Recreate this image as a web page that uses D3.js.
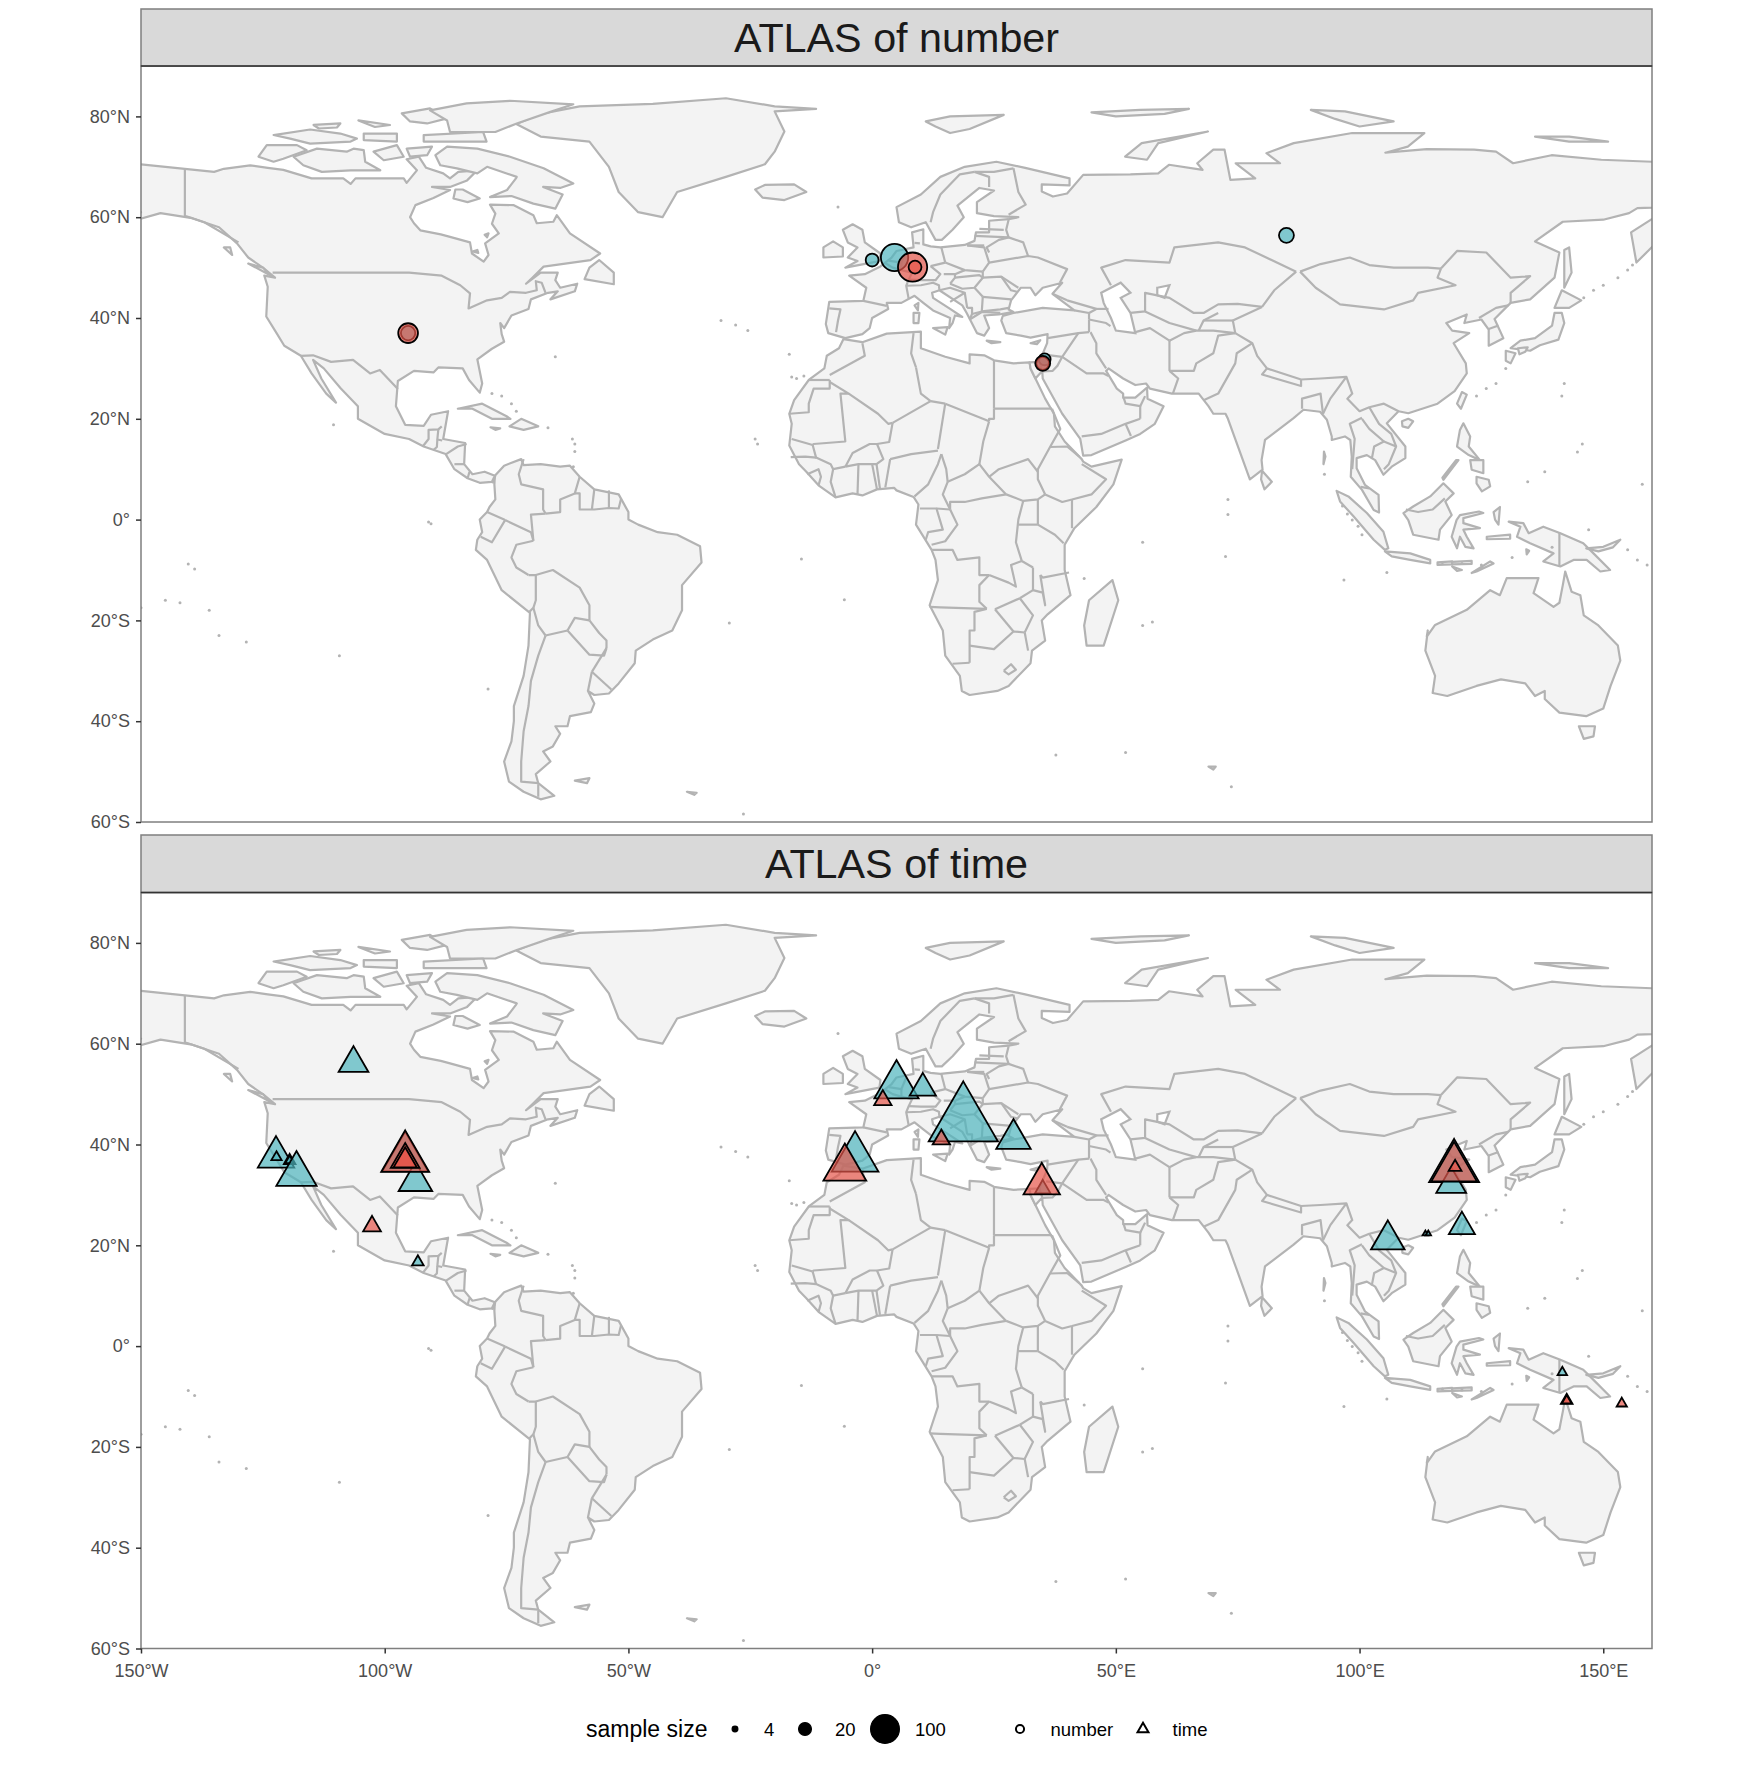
<!DOCTYPE html>
<html>
<head>
    <title>ATLAS map</title>
    <script src="https://cdn.jsdelivr.net/npm/d3@7"></script>
    <meta charset="utf-8" />
    <style>
        body { margin: 0; background: #fff; }
        text { font-family: "Liberation Sans", Arial, sans-serif; }
    </style>
</head>
<body>
<script>
    // land outlines, lon/lat
    var northAmerica = [[-168,65.6],[-166,68.3],[-163,69],[-157,71.2],[-150,70.5],[-141,69.6],[-135,69],[-133,69.6],[-127.6,70.3],[-124,69.8],[-120.8,69.4],[-115,67.7],[-108.5,67.7],[-107,66.6],[-106,67.7],[-101.3,67.7],[-96.1,67.7],[-95.5,66.8],[-93.4,69.3],[-95.5,71.5],[-93,72],[-91.5,69.8],[-88,68.7],[-86.6,67.7],[-84.9,69],[-81,69.3],[-83.1,67.3],[-86.6,66],[-90.3,66],[-86.6,65.4],[-90,63.8],[-93.7,62.4],[-94.8,60],[-94,58.8],[-92.7,57.4],[-88.5,56.6],[-86.6,56.1],[-82.5,55],[-82.1,52.8],[-79.7,51.2],[-78.7,52.5],[-79.4,54.8],[-76.6,56.8],[-78,58.7],[-77.3,60.7],[-78.4,62.5],[-73.6,62.4],[-69.5,60.4],[-68.8,58.8],[-65.4,59.1],[-64.7,60.4],[-62,56.8],[-55.8,52.8],[-57.8,51.5],[-67.4,50.2],[-69.5,48.2],[-71,46.8],[-68,49],[-64.5,49],[-65,47.5],[-64,46],[-60.5,46.8],[-61,45.3],[-66,43.7],[-64.5,45.3],[-66.5,45],[-70,43.7],[-70.5,41.8],[-74,40.5],[-75.5,38],[-76.3,39],[-76,36.8],[-75.5,35.3],[-78,33.9],[-81,31.8],[-80,27],[-80.5,25.2],[-82.7,27.7],[-84,30],[-89,30.2],[-90,29.2],[-94,29.5],[-97.3,27.5],[-97.7,22.5],[-95.8,18.8],[-92,18.6],[-90.5,20.8],[-87,21.5],[-88,16],[-83.5,15.2],[-83.7,11],[-82,9],[-79.5,9.5],[-77.4,8.7],[-78,7.5],[-80.5,7.3],[-83,8.2],[-85.7,10],[-87.5,13],[-92,14.5],[-95,16],[-100,17],[-105.5,20],[-105.5,22.5],[-109,26],[-112.5,30],[-114.7,31.7],[-113,28],[-110,23.2],[-112,25],[-115,29],[-117.2,32.5],[-120.6,34.5],[-122.5,37.5],[-124.3,40.3],[-124,46.2],[-124.7,48.4],[-122.5,48],[-125,50],[-128,52],[-130.3,54.8],[-134,58],[-139.5,59.8],[-146,60.8],[-151.5,59.3],[-150,61],[-153,60],[-158,56.2],[-164,54.6],[-158,58.5],[-162,59],[-165,61],[-164,63],[-161,64.5],[-166,64.5]];
    var arcticIslands = [
        [[-87.2,74],[-81,73.6],[-74.3,72],[-67.4,69.7],[-61.3,66.7],[-64,65.8],[-67.5,66],[-63.5,64.5],[-65,61.7],[-69.5,62.7],[-74,64.2],[-78.4,64],[-74.9,65.4],[-73,67.8],[-72.9,68],[-79,70],[-81,68.7],[-85.2,69.7],[-88.6,70.3],[-89.6,72.3]],
        [[-118.7,72],[-113.9,73.6],[-107.8,73],[-106.4,73.6],[-104.3,73.3],[-104,71],[-100.9,69.3],[-107,69.3],[-112.9,69],[-116.7,70.3]],
        [[-125.9,72],[-124.2,74.3],[-118,74.3],[-116,73.3],[-120.8,71.6],[-122.8,71]],
        [[-122.8,76.3],[-115.3,77.4],[-109.1,76.6],[-105.7,75.6],[-107,75],[-115.3,74.6],[-119.4,75.6]],
        [[-104.3,76.6],[-97.5,76.6],[-97.5,75],[-104.3,75.3]],
        [[-114.6,78.3],[-109.1,78.6],[-109.8,77.8],[-113.5,77.6]],
        [[-105.4,79.2],[-98.9,78.3],[-102,77.9]],
        [[-96.5,80.6],[-90.7,81.6],[-87.2,79.6],[-91.3,78.6],[-94.8,79]],
        [[-90.7,81.2],[-83.2,82.6],[-74.3,83.1],[-61.3,82.4],[-66,80.9],[-72.9,78.6],[-77.3,76.9],[-86.6,76.9],[-87.2,79.2]],
        [[-92,76.3],[-79.8,76.9],[-79.1,75],[-92,75]],
        [[-95.5,73.6],[-90.3,74],[-91.3,72.3],[-94.8,72]],
        [[-102.3,73],[-97.5,74.3],[-96.1,72],[-100.2,71.3]],
        [[-85.5,65.5],[-85.9,63.7],[-83,63],[-80.5,63.7],[-84,65.5]],
        [[-79.5,56.5],[-78.7,56.8],[-79,56]],
        [[-82,53.2],[-81,53.5],[-80.8,52.9]],
        [[-59,47.7],[-53,46.7],[-53,49],[-56,51.5],[-58,50]],
        [[-128,50.8],[-123.5,48.5],[-125,50]],
        [[-133,54],[-131.7,54],[-131.3,52.5]],
        [[-85,22],[-80,23],[-75,20.5],[-74.2,20],[-78,20],[-82,22]],
        [[-74.4,18.5],[-72,20],[-68.5,18.5],[-71.5,17.8]],
        [[-78.3,18.3],[-76.3,18.1],[-77.3,17.8]]
    ];
    var greenland = [[-73,78.5],[-68,80.5],[-60,82],[-45,82.5],[-30,83.6],[-20,82],[-11.5,81.5],[-20,81],[-18,77],[-20,73],[-22,70.5],[-30,68],[-40,65],[-43,60],[-48,61],[-52,65],[-54,70],[-58,75],[-68,76]];
    var southAmerica = [[-77.4,8.7],[-75.5,10.7],[-72,12],[-71.5,10.8],[-68,11],[-64,10.5],[-62,10.7],[-60,8.5],[-57,6],[-52,5],[-50,1.5],[-50,0],[-48,-1],[-44,-2.5],[-40,-3],[-35.3,-5.3],[-35,-8.5],[-39,-13],[-39,-18],[-41,-22],[-45,-23.8],[-48.5,-26],[-48.7,-28.5],[-52,-32.5],[-54,-34.5],[-57,-34.8],[-58.3,-34],[-57,-36.5],[-57.7,-38.2],[-62,-39],[-62.5,-41],[-65,-41],[-64,-42.5],[-65.5,-45],[-67.5,-46],[-66,-48],[-69,-50.5],[-68.5,-52.3],[-65.2,-54.8],[-68,-55.5],[-71.5,-54],[-74.5,-52],[-75.5,-48],[-74,-44],[-73.5,-40],[-73.5,-37],[-71.5,-31],[-70.5,-25],[-70.2,-18.5],[-76,-14],[-79,-8],[-81.3,-6],[-81,-4],[-80,-2.5],[-80.5,0],[-79,1.5],[-78.5,2.5],[-77.3,4],[-77.5,7]];
    var africa = [[-5.9,35.8],[-2,35.2],[3,36.9],[10,37.3],[10,34],[15,32.3],[20,31],[20,32.8],[23,32.6],[25,31.6],[29,31],[32.3,31.2],[32.5,30],[34,27],[35.5,24],[37.3,21],[37.5,18.5],[39.5,15.5],[43,12],[43.3,11.5],[45,10.5],[51.2,11.9],[49.5,7],[46,2.5],[41.5,-1.7],[39.5,-5],[39.5,-10],[40.7,-15],[36,-18.8],[34.8,-20],[35.5,-24],[32.8,-26],[32.5,-28.5],[28,-33],[25.7,-34],[20,-34.8],[18.4,-34],[18,-31],[15,-27],[14.5,-22],[11.8,-17],[13.5,-12],[13,-8],[12.2,-6],[9,-1],[9.5,3],[8.5,4.5],[5,5.8],[4.5,6.3],[1,6],[-2,4.8],[-4,5.2],[-7.5,4.4],[-11,6.8],[-13.5,9.5],[-15,11],[-17,14.7],[-16.5,19],[-17,21],[-16,23.7],[-13,27.7],[-9.8,30],[-9.3,32.5],[-6.8,34]];
    var eurasia = [[-5.5,36],[-9,37],[-9.5,38.8],[-8.8,43.2],[-1.8,43.4],[-1.2,46],[-4.7,48.4],[-1.5,48.7],[1.5,50.1],[4,52],[5,53.3],[8.5,54],[8.2,57],[10.5,57.6],[10.5,54.6],[12,54.2],[14,54],[19,54.5],[21,55.3],[21.3,57],[24,57],[24,59.3],[28,59.6],[30,60],[25,60.2],[21.5,60.8],[21.5,63],[25,65.3],[22,65.8],[17.5,62.3],[18.8,60],[16.5,57.5],[14.3,55.5],[13,55.5],[11,59],[8,58],[5.5,59],[5,62],[10,64.5],[14,68],[19,70],[25.5,71],[31.4,69.8],[40.5,67.7],[40.5,66.3],[34.8,66.5],[34.8,65.1],[37.1,64.1],[40,64.7],[43.3,68.4],[53,68.5],[58.7,68.7],[60.9,70.4],[67.8,69.4],[66.7,70.7],[70,73.4],[72.3,73.4],[73.5,67.4],[78.6,67.7],[74.6,70.7],[83.7,70.7],[80.9,72.7],[86.5,74.7],[98.5,76.7],[113.3,76.7],[109.9,74],[105.3,72.8],[113.8,73.5],[123.5,73.4],[128,73],[131.5,70.7],[139.4,72.3],[149.6,71.4],[160,71],[170,69.5],[180,69],[180,65],[178,64.5],[179,62.5],[170,60],[163,59.8],[163,58],[162,56],[156.8,51],[155.7,57],[163.8,62],[157,61.8],[155.3,60.8],[150,59.5],[141.7,59.1],[136,55.2],[141,53],[140,48],[135,43.7],[131,43],[127.7,39.8],[129.5,36],[126.5,34.5],[126.5,37.7],[125,39.7],[121.5,39],[122,40.7],[117.8,39],[119,37.5],[122.5,37],[119.3,35],[121.8,31],[122,29],[119.5,25.5],[116,23],[110,21.1],[108,21.5],[105.6,19.1],[109.4,14.5],[109.4,12.2],[106.6,10.5],[104.9,8.9],[103.2,11.8],[101.5,12.8],[99.4,12.2],[99.4,10.2],[101.1,6.9],[103.9,4.9],[104,1.4],[102.9,1.9],[100.5,5.9],[98.2,8.5],[98.4,12.5],[98.1,15.8],[97,16.5],[94.3,15.8],[94.3,16.5],[93.3,19.8],[91.9,21.4],[88.5,21.8],[86.4,20.1],[80.6,15.8],[79.9,11.8],[80.1,9.9],[77.5,8],[73,20],[72.5,21],[70,21],[69,22.5],[67,25],[61.5,25],[57,26],[56.2,27],[54,26.7],[51.5,28],[48.5,30],[48,29.5],[50.2,26],[51.5,25],[51.5,24.2],[54,24.2],[56.4,26.2],[56.5,24],[59.8,22.5],[58,19],[55,17],[52,15.7],[45,12.8],[43.3,12.7],[42.7,16],[39,21],[35,28],[34.9,29.5],[33.5,28],[32.5,30],[32.3,31.2],[34.3,31.3],[35.9,35],[36,36.8],[32.5,36.1],[30.5,36.5],[27.5,37],[26.5,39.5],[26.8,40.4],[29,41],[35,42],[41.5,41.5],[37,44.8],[39,47],[35,46],[33.5,44.5],[32.5,46],[30.5,46],[28.5,43.5],[28,41.7],[29,41.2],[26,40.7],[23,40.5],[24,38],[23,36.5],[21.5,37],[19.4,41],[18.5,42.5],[13.8,45.5],[12.3,45],[12.5,44],[16,41.8],[18.5,40.2],[17,40.5],[16.5,39],[15.8,38],[16,40],[12.5,41.5],[10.5,43],[8.7,44.4],[6,43],[3,43],[3.3,41.8],[0,40],[-0.5,38],[-2,36.8]];
    var oldWorldIslands = [
        [[-24,65.5],[-22,66.4],[-16,66.5],[-13.5,65],[-18,63.4],[-22.5,63.9]],
        [[11,79],[16,80],[27,80.3],[20,77.5],[16,76.7],[13,78]],
        [[51.9,72],[55.3,74.7],[68.9,77],[58.7,74.7],[56.4,71.4]],
        [[45,80.8],[55,81.3],[65,81.5],[60,80.5],[50,80]],
        [[90,81.3],[97,81],[107,79],[100,78],[95,79.5]],
        [[136,76],[143,76],[151,75],[143,75]],
        [[-5.5,50],[1.5,51.3],[1.7,52.8],[-1.5,55],[-2,57.5],[-4,58.6],[-6,57.5],[-5,55],[-3,54],[-5,52],[-3,51.3]],
        [[-10,52],[-6,52.2],[-6,54],[-8,55.2],[-10,54]],
        [[8.5,41],[9.7,41],[9.5,39],[8.5,39]],
        [[8.7,42.5],[9.5,43],[9.4,41.5]],
        [[12.5,38],[15.5,38.2],[15,36.7]],
        [[23.5,35.5],[26.3,35.2],[24.5,35]],
        [[32.5,35],[34.5,35.6],[33.8,34.8]],
        [[49.3,-12],[50.5,-16],[47.5,-25],[44,-25],[43.5,-21],[44.5,-16]],
        [[80,9.7],[82,7.5],[80.5,6],[79.8,8]],
        [[141.5,41],[142,39],[140.8,35.7],[137,34.6],[135,33.5],[131,34],[133,35.5],[136,36],[139.5,38.5],[140,41]],
        [[140,42],[141.5,45.5],[145.5,43.5],[143,42]],
        [[130,33.5],[132,33],[131,31],[130,31.5]],
        [[132.5,34],[134.5,34.2],[134,33.3],[132.8,32.8]],
        [[142,46],[143.5,49],[143,54],[142,53.5],[142,48]],
        [[121,25.3],[122,24.8],[120.8,22],[120,23]],
        [[108.7,19.5],[110,20],[111,19.5],[110,18.2],[108.8,18.5]],
        [[121.3,19.1],[122.7,16.5],[122.4,14.5],[124.7,11.8],[122.4,12.8],[120,14.5],[120.6,17.8]],
        [[122.7,11.8],[125.4,11.8],[125.4,9.2],[123,9.9]],
        [[124,8.5],[126.5,7.9],[126.8,6.6],[125.1,5.6],[124,7.2]],
        [[117.2,7.9],[120.3,11.8],[119.8,11.8],[117,8.3]],
        [[109,1.3],[111,2.6],[114.5,4.6],[117.2,7.2],[119.3,5.2],[117.6,3.6],[118.9,0.9],[116.5,-2],[116.2,-4],[111,-3],[110,-0.1]],
        [[95.3,5.7],[97.7,4.6],[101.5,1.3],[104.9,-2.4],[105.9,-5.7],[105.2,-6],[102.9,-4],[98.8,0.6],[96,3.6]],
        [[105.2,-6.3],[110.4,-6.7],[114.5,-8],[114.5,-8.7],[110.4,-8],[106.6,-7.3]],
        [[119.9,-0.1],[118.9,-3.4],[120,-5.7],[120.6,-3.4],[121.7,-5.4],[123.4,-5.7],[122,-3.4],[121.3,-2],[124.7,-1.7],[121.3,-0.7],[121.3,0.3],[125.4,1.3],[124.5,1.6],[120.6,0.9]],
        [[127.5,1.5],[128.8,2.5],[128.5,-1],[127.8,0]],
        [[126.1,-3.4],[130.9,-3],[130.9,-3.8],[126.1,-3.9]],
        [[130.6,-0.4],[133.6,-0.7],[134.7,-2.7],[137.7,-1.4],[141.2,-2.7],[145.9,-4.7],[148,-6.7],[151.4,-10],[149.4,-10.3],[146.6,-8],[143.9,-8],[141.2,-9.3],[137.7,-8.3],[139.8,-6.7],[135,-4.7],[132.3,-3.4],[133,-1.4]],
        [[146.5,-5.7],[150,-5.4],[153.5,-4],[152,-5.5],[149,-6.3]],
        [[116,-8.5],[119,-8.3],[119,-8.9],[116,-9]],
        [[119,-8.4],[123,-8.2],[123,-8.8],[119,-8.9]],
        [[119,-9.3],[121,-10],[120,-10.2]],
        [[123,-10.6],[126.8,-8.3],[127.5,-8.7],[124,-10.3]],
        [[134.2,-5.9],[134.8,-6.2],[134.3,-6.9]],
        [[92.7,13.5],[93,12.5],[92.6,11]],
        [[114,-22],[113.5,-26],[115.5,-31],[115,-34.4],[118,-35],[124,-33],[129,-31.7],[134,-32.5],[136,-35],[138,-34],[138,-35.6],[141,-38.3],[146.5,-39],[150,-37.5],[151.5,-33],[153.5,-28],[153,-25],[149,-21],[146,-19],[145.3,-15],[143.5,-14.3],[142.2,-10.3],[141.7,-13],[141,-16.5],[139.8,-17.3],[135.7,-14.6],[136.7,-11.6],[130.2,-11.6],[128.8,-15],[126.8,-14],[122,-17.9],[115.5,-20.9],[113.8,-23.2]],
        [[145,-41],[148.3,-41],[148,-43],[146,-43.5]],
        [[-61,-51.8],[-58,-51.3],[-58.5,-52.3]],
        [[-38,-54],[-36,-54.2],[-36.5,-54.6]],
        [[69,-49],[70.5,-49],[70,-49.6]]
    ];
    var lakes = [
        [[47,45],[51,47],[53,45],[51,44],[53,41],[54,37],[50,37.5],[49,40],[47.5,43]],
        [[58.5,46],[61,46.5],[60,44],[58.5,44.5]]
    ];
    var islets = [[-155.5,19.5],[-157,21],[-158,21.5],[-159.5,22],[-91,-0.5],[-90.5,-0.8],[-150,-17.5],[-145,-16],[-142,-16.5],[-140.3,-8.8],[-139,-9.8],[-136,-18],[-134,-23],[-128.4,-24.3],[-109.3,-27],[-78.8,-33.6],[-29.3,-20.5],[-14.5,-7.8],[-5.7,-15.9],[-25.5,37.5],[-28,38.6],[-31,39.5],[-17,32.8],[-16.5,28.3],[-15.5,28],[-14,28.5],[-24,16],[-23.5,15],[-65,32.3],[-66.5,18.2],[-61,15],[-61.5,16],[-61,13.5],[-61.3,10.5],[-78,25],[-76,24.5],[-74,23],[-73,21.5],[-110.5,18.8],[-7,62],[73,4],[73,1],[72.5,-7.3],[55.5,-4.5],[57.5,-20.3],[55.5,-21],[43.5,-11.7],[92.8,9],[96.5,2.7],[97.5,1.1],[98.5,-0.1],[99.7,-1.3],[100.5,-3],[146,44],[148,45.5],[150,46.5],[153,48],[155,49.5],[156,50.5],[128,27],[126,26],[124,24.5],[130,30],[142,27],[141.5,24.5],[145.7,15],[144.7,13.4],[134.5,7.5],[158,7],[138,9.5],[159,-9],[157,-8],[155,-6],[147,-2],[105.6,-10.5],[96.8,-12],[52,-46.2],[37.7,-46.7],[73.7,-53],[-26.4,-58.4],[139.5,-5.5],[131.3,-7.5],[125,-9],[121,-8.7],[117,-8.5]];

    // country borders
    var bordersAmericas = [
        [[-123,49],[-95,49],[-88.3,48.4],[-84.5,46.5],[-82.5,44.9],[-82.8,41.9],[-79,43.5],[-76,44],[-74.3,45.2],[-71,45],[-68.8,45.5],[-69,47.3],[-67.8,47],[-67,45]],
        [[-141,69.6],[-141,60.3],[-137,59],[-130,55]],
        [[-117.2,32.5],[-114.7,32.6],[-111,31.3],[-106.5,31.7],[-103,29],[-101,29.7],[-97.3,25.9]],
        [[-92.2,14.5],[-91,16],[-91,17.8],[-89,17.9],[-88.3,18.5]],
        [[-89,17.9],[-89.2,15.9],[-88.2,15.7]],[[-89.2,15.9],[-89.3,14.4],[-90,13.8]],[[-87.4,13],[-85,14.5],[-83.2,15]],[[-85.7,11],[-83.7,11]],[[-83,8.2],[-82.6,9.5]],[[-77.3,8.7],[-77.9,7.2]],
        [[-71.5,12],[-72.5,9],[-72,7],[-67.5,6],[-67.5,2],[-67,1.2]],[[-67,1.2],[-70,1],[-69.5,-4.2]],[[-60,8.5],[-61,5.2],[-64,4],[-64,1.5],[-67,1.2]],[[-61,5.2],[-60,5.2],[-60,2],[-57,2],[-54,2.3],[-52,2.2],[-51.5,4.2]],[[-57,6],[-57.5,2]],[[-54,5.8],[-54,2.3]],
        [[-79,1.5],[-75.5,0],[-75.3,-0.1]],[[-80.3,-3.4],[-78,-4.5],[-75.3,-0.1]],[[-75.3,-0.1],[-70,-2.5],[-69.5,-4.2]],[[-69.5,-4.2],[-73,-5],[-74,-7.5],[-73,-9.5],[-70.5,-11]],[[-70.5,-11],[-69,-11],[-69,-16],[-69.5,-17.5]],[[-70.3,-18.3],[-69.5,-17.5]],[[-69,-11],[-65.5,-10],[-60,-13.5],[-58,-17],[-58,-20]],[[-69.5,-17.5],[-68.5,-21],[-67,-23]],[[-67,-23],[-62.5,-22]],[[-62.5,-22],[-61,-19.5],[-58,-20]],[[-67,-23],[-68.5,-27],[-70,-32],[-70.5,-37],[-71.5,-42],[-72,-48],[-72,-52],[-68.5,-52.3]],[[-68.5,-52.5],[-68.5,-55]],[[-62.5,-22],[-58,-26.8],[-55,-27],[-54.5,-25.5]],[[-58,-20],[-56,-22.5],[-54.5,-24],[-54.5,-25.5]],[[-54.5,-25.5],[-57.5,-30.2]],[[-57.5,-30.2],[-58.3,-34]],[[-57.5,-30.2],[-53.5,-33.7]]
    ];
    var bordersAfrica = [
        [[-2,35],[-1.5,32.5],[-8.7,28.7]],[[-13,27.7],[-8.7,27.7]],[[-17,21],[-13,21.3],[-13,23],[-12,26],[-8.7,26],[-8.7,27.7]],[[-8.7,27.3],[-4.8,25],[-6.5,25],[-5.5,15.5],[-12,15],[-12.2,14.8]],[[-16.5,16],[-12.2,14.8]],[[-4.8,25],[1.2,21],[3.3,19],[4.2,19.2]],[[4.2,19.2],[12,23.5]],[[8.5,37],[8,33],[9,30.2]],[[9,30.2],[10,25],[12,23.5]],[[12,23.5],[15,23]],[[15,23],[24,19.5]],[[25,31.6],[25,22]],[[24,19.5],[24,20],[25,20],[25,22]],[[25,22],[36.9,22]],[[24,19.5],[22.8,15.5],[22,11]],[[15,23],[13.5,14]],[[4.2,19.2],[3.5,15.4],[1,15]],[[3.7,12],[8,13],[13.5,13.7]],[[2.7,6.4],[3.7,12]],[[1.6,6.2],[0.9,11]],[[1,6],[0,11]],[[-3,5],[-2.8,11]],[[-5.5,10.5],[-4,13.2],[-0.5,15],[1,15]],[[-5.5,10.5],[-2.8,11],[0,11],[0.9,11],[2.3,12],[1,15]],[[-12.2,14.8],[-11.5,12.3],[-8.5,11],[-8,10],[-5.5,10.5]],[[-7.5,4.4],[-8.5,7.5],[-8,10]],[[-13.3,9],[-11,10],[-10.5,8.5],[-11,6.8]],[[-16.7,12.4],[-13.7,12.5],[-11.5,12.3]],
        [[8.7,4.6],[11.5,7],[13.5,11],[14.2,13]],[[14.2,13],[15.2,10],[15.5,7.5]],[[15.5,7.5],[19,9],[22,11]],[[22,11],[24,8.5],[27.5,5]],[[15.5,7.5],[14.5,5],[16,2]],[[16,2],[16,3.5],[19,3.5],[22.5,4.2],[27.5,5]],[[9.8,2.2],[11.3,2.2],[13.2,2.2],[14.5,-2],[11.5,-2.5],[11,-4]],[[13.2,2.2],[16,2]],[[16,2],[17.5,-1],[16,-3],[15,-4.3],[12.2,-5]],[[12.2,-6],[16.5,-6],[17.5,-8],[22,-7.5],[22,-11],[24,-11]],[[11.8,-17.3],[14,-17.4],[23.5,-17.7]],[[24,-11],[22,-13],[22,-16.3],[23.5,-17.7]],[[24,-11],[28,-12.5],[29.5,-13.3],[28.5,-9],[30.7,-8.2]],[[27.5,5],[31,3.7],[30,0],[29.5,-4.5],[30.7,-8.2]],[[24,8.5],[26,10],[32,12],[34,9.5]],[[36.9,22],[38.6,18],[36.5,14.4],[34,10],[34,8],[35.5,5]],[[36.5,14.4],[40,14.5],[42.5,12.5]],[[31,3.7],[34,4],[35.5,5]],[[35.5,5],[39,3.5],[41,4]],[[41,4],[45,5],[48,8],[43,11]],[[41,4],[41,-1.7]],[[34,-1],[37.5,-3],[39.3,-4.7]],[[34,4],[34,-1]],[[30,-1],[34,-1]],[[40.4,-10.5],[35,-11.5],[34.5,-11]],[[30.7,-8.2],[33,-9.5]],[[33,-9.5],[33,-14],[35,-14.5],[35.5,-17],[34.5,-11]],[[30.3,-15.6],[33,-14]],[[25.2,-17.8],[30.3,-15.6]],[[30.3,-15.6],[33,-19],[31.3,-22.4]],[[31.3,-22.4],[32,-26]],[[16.5,-28.6],[20,-28.4]],[[23.5,-17.7],[21,-18.3],[21,-22],[20,-22],[20,-28.4]],[[20,-25],[25,-25.7],[29,-22.2],[31.3,-22.4]],[[25.2,-17.8],[29,-22.2]],[[27,-30],[28.5,-28.7],[29.5,-29.8],[28,-30.7],[27,-30]]
    ];
    var bordersAsia = [
        [[34.3,31.3],[34.9,29.5]],[[35.7,32.7],[39,32.3],[42.3,37]],[[36,36],[42.3,37],[44.5,37.2]],[[44.5,37.2],[44.5,39.7]],[[41.5,41.5],[44.5,41],[44.5,39.7]],[[44.8,37.2],[46,35],[46,33],[48,30]],[[39,32.3],[44,29],[47.5,29],[48.5,28.5]],[[34.9,29.4],[37,29.5],[38,30.5],[39,32.3]],[[43,16.5],[47,17],[52,19],[55,20]],[[55,20],[55,22.5],[52,23],[51.6,24.2]],[[55,22.5],[56,24.5]],[[52,19],[53.1,16.6]],
        [[61.7,25],[62.8,28],[61,29.5]],[[61,29.5],[61,35.5]],[[54,37.2],[57,38],[61,35.5]],[[61,29.5],[66,29.5],[66.5,31],[70,33],[71,36.5],[74.5,37]],[[61,35.5],[64,37],[66.5,37.5],[70,37.5],[74.5,37]],[[49,46.5],[47,50],[52,51.5],[61,51],[62,54],[71,55],[76.5,54],[87,49.2]],[[87,49.2],[82.5,45.5],[80,42.2]],[[53,41],[56,41.3],[56,45],[61,44],[66,41],[68,41],[71,42.7],[75,42.8],[80,42.2]],[[68,39.5],[74,39.5]],[[80,42.2],[74,39.5],[74.5,37]],[[56,41.3],[61,39],[66.5,37.5]],[[67,37.5],[68,39.5],[71,41]],
        [[87.8,49.2],[92,50.7],[98,52],[102,50.5],[107,50],[114,50],[116.7,49.8]],[[87.8,49.2],[91,46],[96,42.7],[105,41.7],[111,43.5],[112,45],[119.7,46.5],[116,48],[116.7,49.8]],[[116.7,49.8],[120,53.3],[126,53],[131,48],[135,48.3],[131,45],[131,43]],[[124.5,40],[128,42],[130.5,42.5]],[[126.5,37.8],[128.5,38.5]],
        [[74.5,37],[78,35],[79,32.5],[81,30],[88,27.8],[92,28],[97.3,28.3],[98.5,25],[97.5,24],[100,21.5],[102,22.3],[105,23],[108,21.5]],[[81,30],[80,28.8],[88,26.5],[88,27.8]],[[68,23.7],[71,25],[74.5,31],[74.8,33],[78,35]],[[88.2,22],[88.2,24],[92,25],[92.5,21]],[[92.5,21],[94,24],[97.3,28.3]],[[98.5,10],[99,16],[98,19],[100.5,20.2]],[[100.5,20],[102,18],[105,15.5]],[[102.5,12],[103,14.5],[105,15.5],[107.5,14.5],[106,11],[105,10]],[[102,22.3],[104,19],[106.5,17],[107.5,14.5]],[[100.2,6.5],[102,6.2]],[[109.5,2],[112,1.5],[115,2],[117.5,4.2]],[[141,-2.6],[141,-9.2]]
    ];
    var bordersEurope = [
        [[-1.8,43.4],[3,42.4]],[[-8.8,41.9],[-6.5,41.7],[-7,39.5],[-7.4,37.2]],[[2.5,51],[4.2,50],[6,49.5],[8.2,49],[7.5,47.6],[7,46.4],[7.5,43.8]],[[3.4,51.4],[6,51],[7,53.3]],[[6,51],[6,49.5]],[[8.7,54.9],[9.8,54.8]],[[14.2,54],[15,51]],[[12,50.3],[15,51]],[[7.5,47.6],[10,47.5],[13,47.5],[14,48.7],[12,50.3]],[[7,46.4],[10,46.5],[12.5,47],[13.7,46.5],[13.8,45.6]],[[19.5,54.4],[23,54],[24,51],[22.7,49.2]],[[15,51],[19,49.5],[22.7,49.2]],[[14.7,48.7],[17,48.7],[19,49.5]],[[17,48.7],[17,48],[16,46.8]],[[17,48],[22,48.5],[22.7,48],[21,46],[18.5,45.8],[16,46.8]],[[24,51],[32,52.3],[34,52],[40,49.7],[38.5,47]],[[22.7,49.2],[22.7,48],[26.5,48.2],[28.5,45.5],[29.7,45.2]],[[26.5,48.2],[30,46]],[[22.7,44.2],[28.5,43.7]],[[21,46],[22.7,44.2]],[[22.5,41.3],[26.3,41.7],[28,42]],[[22.7,44.2],[22.5,41.3],[20.5,40.8]],[[20,39.7],[22.5,41.2],[26.3,41]],[[13.8,45.5],[16,46],[19,45],[16,43.2]],[[19.5,42],[20.5,42],[20.5,40.8],[20,39.7]],[[19,45],[19.5,42]],[[21,56.3],[28,56]],[[22,57.7],[27,57.5]],[[28,59.5],[27.5,57.5],[28,56]],[[24,53],[23.5,54],[26,55.5],[28,56],[31,55],[32,52.3]],[[19.5,54.4],[23,54.4]],[[29,69.7],[30,65],[31.5,62.5],[28,60.5]],[[12,59],[12.5,61],[14,64.5],[18,68.5],[21,69]],[[24,66],[24,68],[21,69]],[[21,69],[25,69],[29,69.7]],[[40,43.5],[46,41.8],[44.5,41]],[[46,41.8],[48.5,41.8]],[[44.5,39.7],[48,39],[48.9,38.4]],[[37,44.8],[40,43.5]]
    ];

    // study sites: number panel
    var numberLon = [85, -95.2, 4.6, 0, 35.4, 35, -95.2, 8.3, 8.8, 35];
    var numberLat = [56.4, 37, 52, 51.5, 31.8, 31, 37, 50.1, 50.1, 31];
    var numberSize = [27, 25, 90, 20, 17, 20, 47, 103, 20, 27];
    var numberGroup = ["a", "a", "a", "a", "a", "a", "b", "b", "b", "b"];

    // study sites: time panel
    var timeLon = [-106.4, -122.3, -122.2, -119.5, -119.5, -118.1, -95.8, -93.7, -93.2, -3.5, 5, 10.4, 18.7, 29, 35, 119.4, 118.8, 105.8, 121, 113.5, 114.1, 141.6, -95.8, -95.8, -95.8, -102.6, -5.6, 2.2, 14.2, 34.8, 119.4, 119.6, 142.5, 142.5, 153.8];
    var timeLat = [56.1, 37.5, 37.5, 36.8, 36.8, 34.1, 37.3, 32.7, 16.7, 37.3, 51.7, 51.2, 44.6, 41.1, 31.2, 35.4, 32.1, 21.1, 23.7, 22.3, 22.3, -5.2, 37.3, 37, 36.8, 23.8, 35.3, 48.8, 41, 32.2, 35.3, 35.5, -10.8, -10.8, -11.4];
    var timeSize = [59, 88, 7, 9, 5, 108, 140, 75, 9, 145, 130, 46, 318, 79, 16, 166, 59, 75, 45, 2, 2, 6, 153, 55, 36, 21, 122, 20, 20, 88, 138, 11, 9, 6, 7];
    var timeGroup = ["a", "a", "a", "a", "a", "a", "a", "a", "a", "a", "a", "a", "a", "a", "a", "a", "a", "a", "a", "a", "a", "a", "b", "b", "b", "b", "b", "b", "b", "b", "b", "b", "b", "b", "b"];

    // axis and legend text
    var latTicks = [80, 60, 40, 20, 0, -20, -40, -60];
    var latLabels = ["80°N", "60°N", "40°N", "20°N", "0°", "20°S", "40°S", "60°S"];
    var lonTicks = [-150, -100, -50, 0, 50, 100, 150];
    var lonLabels = ["150°W", "100°W", "50°W", "0°", "50°E", "100°E", "150°E"];
    var legendSizes = [4, 20, 100];
    var panelTitles = ["ATLAS of number", "ATLAS of time"];

    var w = 1739, h = 1770;
    var left = 141, right = 1652;
    var panelTop = [66, 892.5];
    var panelH = 756;
    var stripTop = [9, 835];

    var groupColor = { a: "#4fb5bd", b: "#e5564a" };
    var landStroke = "#b3b3b3";

    var xScale = d3.scaleLinear().domain([-150, 160]).range([left, right]);
    var yScale = d3.scaleLinear().domain([-60, 90]).range([panelH, 0]);
    var rScale = d3.scaleSqrt().domain([0, 100]).range([0, 14.4]);

    var line = d3.line()
        .x(function (d) { return xScale(d[0]); })
        .y(function (d) { return yScale(d[1]); });

    var symbol = d3.symbol();
    function shape(type, n) {
        var r = rScale(n);
        return symbol.type(type).size(Math.PI * r * r)();
    }

    var svg = d3.select("body").append("svg")
        .attr("width", w)
        .attr("height", h);

    var defs = svg.append("defs");
    defs.append("clipPath").attr("id", "panel-area")
        .append("rect")
        .attr("x", left).attr("y", 0)
        .attr("width", right - left).attr("height", panelH);

    var landRings = [northAmerica, greenland, southAmerica, africa, eurasia].concat(arcticIslands, oldWorldIslands);
    var borderLines = bordersAmericas.concat(bordersAfrica, bordersAsia, bordersEurope);

    function drawPanel(index, lon, lat, size, group, type) {
        var g = svg.append("g").attr("transform", "translate(0," + panelTop[index] + ")");

        // strip with title
        svg.append("rect")
            .attr("x", left).attr("y", stripTop[index])
            .attr("width", right - left).attr("height", panelTop[index] - stripTop[index])
            .attr("fill", "#d9d9d9").attr("stroke", "#7f7f7f").attr("stroke-width", 1.5);
        svg.append("line")
            .attr("x1", left).attr("x2", right)
            .attr("y1", panelTop[index]).attr("y2", panelTop[index])
            .attr("stroke", "#333").attr("stroke-width", 1.5);
        svg.append("text")
            .attr("x", (left + right) / 2)
            .attr("y", panelTop[index] - 14.5)
            .attr("text-anchor", "middle")
            .attr("font-size", 41.3)
            .attr("fill", "#1a1a1a")
            .text(panelTitles[index]);

        var map = g.append("g").attr("clip-path", "url(#panel-area)");

        map.selectAll("path.land")
            .data(landRings)
            .enter().append("path")
            .attr("class", "land")
            .attr("d", function (d) { return line(d) + "Z"; })
            .attr("fill", "#f3f3f3")
            .attr("stroke", landStroke)
            .attr("stroke-width", 2.2)
            .attr("stroke-linejoin", "round");

        map.selectAll("path.lake")
            .data(lakes)
            .enter().append("path")
            .attr("class", "lake")
            .attr("d", function (d) { return line(d) + "Z"; })
            .attr("fill", "#fff")
            .attr("stroke", landStroke)
            .attr("stroke-width", 2.2);

        map.selectAll("path.border")
            .data(borderLines)
            .enter().append("path")
            .attr("class", "border")
            .attr("d", line)
            .attr("fill", "none")
            .attr("stroke", landStroke)
            .attr("stroke-width", 2.2)
            .attr("stroke-linejoin", "round");

        map.selectAll("circle.islet")
            .data(islets)
            .enter().append("circle")
            .attr("class", "islet")
            .attr("cx", function (d) { return xScale(d[0]); })
            .attr("cy", function (d) { return yScale(d[1]); })
            .attr("r", 1.5)
            .attr("fill", landStroke);

        // study sites
        map.selectAll("path.site")
            .data(lon)
            .enter().append("path")
            .attr("class", "site")
            .attr("transform", function (d, i) {
                return "translate(" + xScale(d) + "," + yScale(lat[i]) + ")";
            })
            .attr("d", function (d, i) { return shape(type, size[i]); })
            .attr("fill", function (d, i) { return groupColor[group[i]]; })
            .attr("fill-opacity", 0.7)
            .attr("stroke", "#000")
            .attr("stroke-width", 1.8);

        // panel border
        g.append("rect")
            .attr("x", left).attr("y", 0)
            .attr("width", right - left).attr("height", panelH)
            .attr("fill", "none")
            .attr("stroke", "#7f7f7f")
            .attr("stroke-width", 1.5);

        // y axis
        var yAxis = d3.axisLeft(yScale)
            .tickValues(latTicks)
            .tickFormat(function (d, i) { return latLabels[i]; })
            .tickSize(5)
            .tickPadding(6);
        var ya = g.append("g")
            .attr("transform", "translate(" + left + ",0)")
            .call(yAxis);
        styleAxis(ya);

        if (index === 1) {
            var xAxis = d3.axisBottom(xScale)
                .tickValues(lonTicks)
                .tickFormat(function (d, i) { return lonLabels[i]; })
                .tickSize(5)
                .tickPadding(10.5);
            var xa = g.append("g")
                .attr("transform", "translate(0," + panelH + ")")
                .call(xAxis);
            styleAxis(xa);
        }
    }

    function styleAxis(a) {
        a.select(".domain").remove();
        a.selectAll(".tick line").attr("stroke", "#333").attr("stroke-width", 1.5);
        a.selectAll(".tick text")
            .attr("fill", "#4d4d4d")
            .attr("font-size", 18)
            .attr("font-family", "Liberation Sans");
    }

    drawPanel(0, numberLon, numberLat, numberSize, numberGroup, d3.symbolCircle);
    drawPanel(1, timeLon, timeLat, timeSize, timeGroup, d3.symbolTriangle);

    // legend
    var legendY = 1729;
    var legendSizeX = [735, 805, 885];
    var legendLabelX = [764, 835, 915];
    var legend = svg.append("g");

    legend.append("text")
        .attr("x", 586).attr("y", legendY + 8)
        .attr("font-size", 23)
        .attr("fill", "#000")
        .text("sample size");

    legendSizes.forEach(function (n, i) {
        legend.append("path")
            .attr("transform", "translate(" + legendSizeX[i] + "," + legendY + ")")
            .attr("d", shape(d3.symbolCircle, n))
            .attr("fill", "#000")
            .attr("stroke", "#000")
            .attr("stroke-width", 1.2);
        legend.append("text")
            .attr("x", legendLabelX[i]).attr("y", legendY + 6.5)
            .attr("font-size", 18.5)
            .text(n);
    });

    legend.append("path")
        .attr("transform", "translate(1020," + legendY + ")")
        .attr("d", shape(d3.symbolCircle, 8))
        .attr("fill", "none").attr("stroke", "#000").attr("stroke-width", 2);
    legend.append("text")
        .attr("x", 1050.5).attr("y", legendY + 6.5)
        .attr("font-size", 18.5)
        .text("number");
    legend.append("path")
        .attr("transform", "translate(1143," + legendY + ")")
        .attr("d", shape(d3.symbolTriangle, 8))
        .attr("fill", "none").attr("stroke", "#000").attr("stroke-width", 2);
    legend.append("text")
        .attr("x", 1172.5).attr("y", legendY + 6.5)
        .attr("font-size", 18.5)
        .text("time");
</script>
</body>
</html>
